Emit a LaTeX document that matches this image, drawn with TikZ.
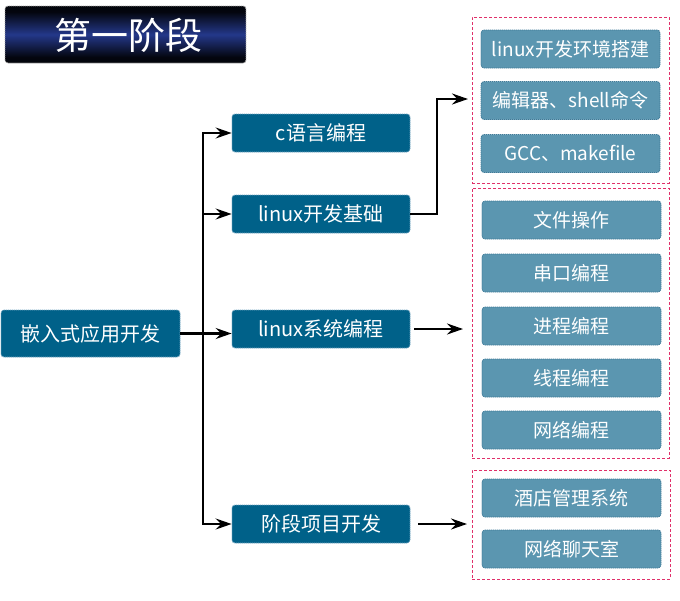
\documentclass[tikz,border=0pt]{standalone}
\usepackage{fontspec}
\setmainfont{Noto Sans CJK SC}
\usetikzlibrary{arrows.meta}
\definecolor{darkbox}{HTML}{006189}
\definecolor{lightbox}{HTML}{5B96B0}
\definecolor{darkedge}{HTML}{6FA3C0}
\definecolor{lightedge}{HTML}{3F7A98}
\definecolor{pinkline}{HTML}{E0306A}
\definecolor{navy}{HTML}{24388A}
\pgfdeclareverticalshading{titleband}{100bp}{
  color(0bp)=(black); color(30bp)=(black!90!navy); color(50bp)=(navy);
  color(70bp)=(black!90!navy); color(100bp)=(black)}
\tikzset{
  dbox/.style={rectangle, rounded corners=3pt, fill=darkbox, draw=darkedge,
    dash pattern=on 1.2pt off 0.8pt, line width=0.8pt, text=white,
    minimum width=178pt, minimum height=38pt, inner sep=0pt,
    font=\fontsize{20}{20}\selectfont},
  lbox/.style={rectangle, rounded corners=3pt, fill=lightbox, draw=lightedge,
    dash pattern=on 1.2pt off 0.8pt, line width=0.8pt, text=white,
    minimum width=179pt, minimum height=38pt, inner sep=0pt,
    font=\fontsize{19}{19}\selectfont},
  grp/.style={draw=pinkline, dash pattern=on 3pt off 2pt, line width=0.8pt},
  conn/.style={line width=2.4pt, black},
  arr/.style={conn, -{Stealth[length=16pt,width=11pt,inset=5.5pt]}},
}
\begin{document}
\begin{tikzpicture}[x=1pt,y=-1pt]
\useasboundingbox (0,0) rectangle (680,600);
% title
\shade[rounded corners=3pt, shading=titleband] (5,6) rectangle (246,63);
\draw[rounded corners=3pt, gray!70, dash pattern=on 1.2pt off 0.8pt, line width=0.8pt]
  (5,6) rectangle (246,63);
\node[text=white, font=\fontsize{37}{37}\selectfont] (title) at (128,35) {第一阶段};
% root
\node[dbox, minimum width=179pt, minimum height=47pt] (root) at (90.5,333.5) {嵌入式应用开发};
% level 2
\node[dbox] (c) at (321,133) {c语言编程};
\node[dbox] (base) at (321,214) {linux开发基础};
\node[dbox] (sys) at (321,329) {linux系统编程};
\node[dbox] (proj) at (321,524) {阶段项目开发};
% trunk
\coordinate (ttop) at (203,133);
\coordinate (tbot) at (203,524);
\draw[conn, line cap=rect] (ttop) -- (tbot);
\draw[arr] (root.east) -- (root.east -| sys.west);
\draw[arr] (ttop) -- (c.west);
\draw[arr] (203,214) -- (base.west);
\draw[arr] (tbot) -- (proj.west);
% groups
\node[grp, minimum width=197pt, minimum height=166pt, inner sep=0pt] (g1) at (570.5,100) {};
\node[grp, minimum width=197pt, minimum height=270pt, inner sep=0pt] (g2) at (570.5,323) {};
\node[grp, minimum width=198pt, minimum height=109pt, inner sep=0pt] (g3) at (571,524.5) {};
% group 1
\node[lbox] (a1) at (570.5,49) {linux开发环境搭建};
\node[lbox] (a2) at (570.5,100.5) {编辑器、shell命令};
\node[lbox] (a3) at (570.5,153.5) {GCC、makefile};
% group 2
\node[lbox] (b1) at (571.5,220) {文件操作};
\node[lbox] (b2) at (571.5,273) {串口编程};
\node[lbox] (b3) at (571.5,326) {进程编程};
\node[lbox] (b4) at (571.5,378) {线程编程};
\node[lbox] (b5) at (571.5,430) {网络编程};
% group 3
\node[lbox] (d1) at (571.5,498) {酒店管理系统};
\node[lbox] (d2) at (571.5,549) {网络聊天室};
% connectors to groups
\coordinate (e1) at (468,99);
\draw[arr] (base.east) -- (437,214) -- (437,99) -- (e1);
\coordinate (e2) at (463,329);
\draw[arr] (sys.east) ++(4,0) -- (e2);
\coordinate (e3) at (467,524);
\draw[arr] (proj.east) ++(8,0) -- (e3);
\end{tikzpicture}
\end{document}
